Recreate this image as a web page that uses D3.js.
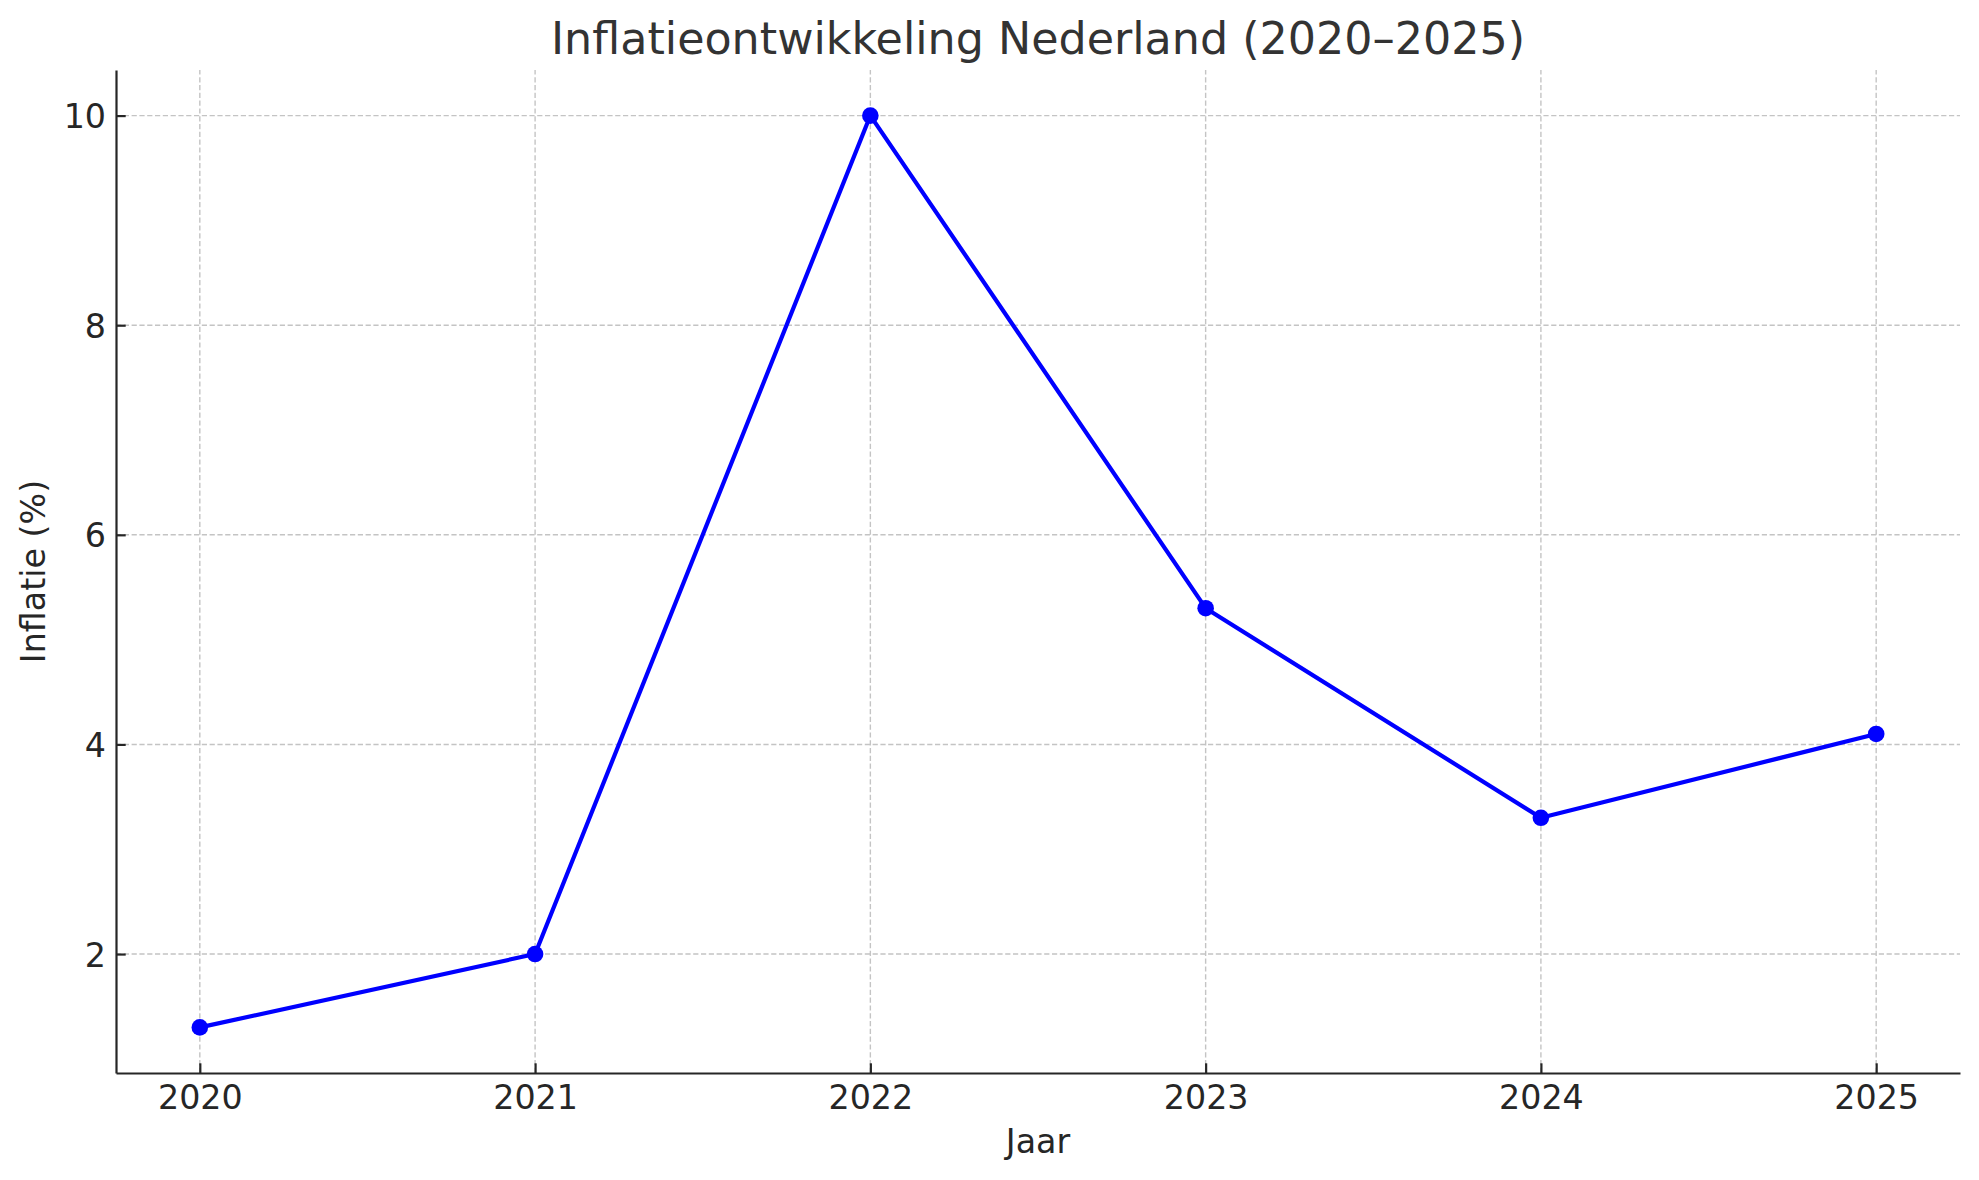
<!DOCTYPE html>
<html lang="nl">
<head>
  <meta charset="UTF-8">
  <title>Inflatieontwikkeling Nederland</title>
  <script src="https://d3js.org/d3.v7.min.js"></script>
  <style>
    html, body { margin: 0; padding: 0; background: #fff; }
    svg { display: block; font-family: "DejaVu Sans", sans-serif; }
  </style>
</head>
<body>
  <div class="chart"></div>
  <script>
      // data
      const jaren = [2020, 2021, 2022, 2023, 2024, 2025];
      const inflatie = [1.3, 2.0, 10.0, 5.3, 3.3, 4.1];
      const yTicks = [2, 4, 6, 8, 10];

      const width = 1979, height = 1180;
      const margin = { top: 70, right: 19, bottom: 107, left: 116 };

      const svg = d3.select('.chart').append('svg')
        .attr('width', width).attr('height', height);

      // matplotlib-achtige marges van 5%
      const x = d3.scaleLinear()
        .domain([2019.75, 2025.25])
        .range([margin.left, width - margin.right]);
      const y = d3.scaleLinear()
        .domain([0.865, 10.435])
        .range([height - margin.bottom, margin.top]);

      const textColor = '#262626';

      // grid
      const grid = svg.append('g')
        .attr('stroke', '#c4c4c4')
        .attr('stroke-width', 1.4)
        .attr('stroke-dasharray', '5.2,2.6');
      grid.selectAll('.gx').data(jaren).enter().append('line')
        .attr('x1', d => x(d)).attr('x2', d => x(d))
        .attr('y1', y.range()[0]).attr('y2', y.range()[1]);
      grid.selectAll('.gy').data(yTicks).enter().append('line')
        .attr('x1', x.range()[0]).attr('x2', x.range()[1])
        .attr('y1', d => y(d)).attr('y2', d => y(d));

      // axes (ticks naar binnen)
      const xAxis = svg.append('g')
        .attr('transform', `translate(0,${height - margin.bottom})`)
        .call(d3.axisBottom(x).tickValues(jaren).tickFormat(d3.format('d'))
          .tickSizeInner(-9.7).tickSizeOuter(0).tickPadding(19.4));
      const yAxis = svg.append('g')
        .attr('transform', `translate(${margin.left},0)`)
        .call(d3.axisLeft(y).tickValues(yTicks).tickFormat(d3.format('d'))
          .tickSizeInner(-9.7).tickSizeOuter(0).tickPadding(19.4));

      [xAxis, yAxis].forEach(ax => {
        ax.select('.domain').attr('stroke', textColor).attr('stroke-width', 2.2);
        ax.selectAll('.tick line').attr('stroke', textColor).attr('stroke-width', 2.2);
        ax.selectAll('.tick text')
          .attr('fill', textColor)
          .style('font-size', '33.3px')
          .style('font-family', '"DejaVu Sans", sans-serif');
      });
      xAxis.selectAll('.tick text').attr('dy', '0.71em').attr('y', 12);
      yAxis.selectAll('.tick text').attr('x', -10).attr('dy', '0.36em');

      // line + markers
      const pts = jaren.map((j, i) => [j, inflatie[i]]);
      svg.append('path')
        .datum(pts)
        .attr('fill', 'none')
        .attr('stroke', '#0000ff')
        .attr('stroke-width', 4.2)
        .attr('stroke-linejoin', 'round')
        .attr('d', d3.line().x(d => x(d[0])).y(d => y(d[1])));
      svg.selectAll('circle.pt')
        .data(pts)
        .enter()
        .append('circle')
        .attr('class', 'pt')
        .attr('cx', d => x(d[0]))
        .attr('cy', d => y(d[1]))
        .attr('r', 8.3)
        .style('fill', '#0000ff');

      // labels
      const midX = (x.range()[0] + x.range()[1]) / 2;
      const midY = (y.range()[0] + y.range()[1]) / 2;
      svg.append('text')
        .attr('x', midX).attr('y', 54)
        .attr('text-anchor', 'middle')
        .attr('fill', '#333')
        .style('font-size', '44.4px')
        .text('Inflatieontwikkeling Nederland (2020–2025)');
      svg.append('text')
        .attr('x', midX).attr('y', 1153)
        .attr('text-anchor', 'middle')
        .attr('fill', textColor)
        .style('font-size', '33.3px')
        .text('Jaar');
      svg.append('text')
        .attr('transform', `translate(45,${midY}) rotate(-90)`)
        .attr('text-anchor', 'middle')
        .attr('fill', textColor)
        .style('font-size', '33.3px')
        .text('Inflatie (%)');
  </script>
</body>
</html>
